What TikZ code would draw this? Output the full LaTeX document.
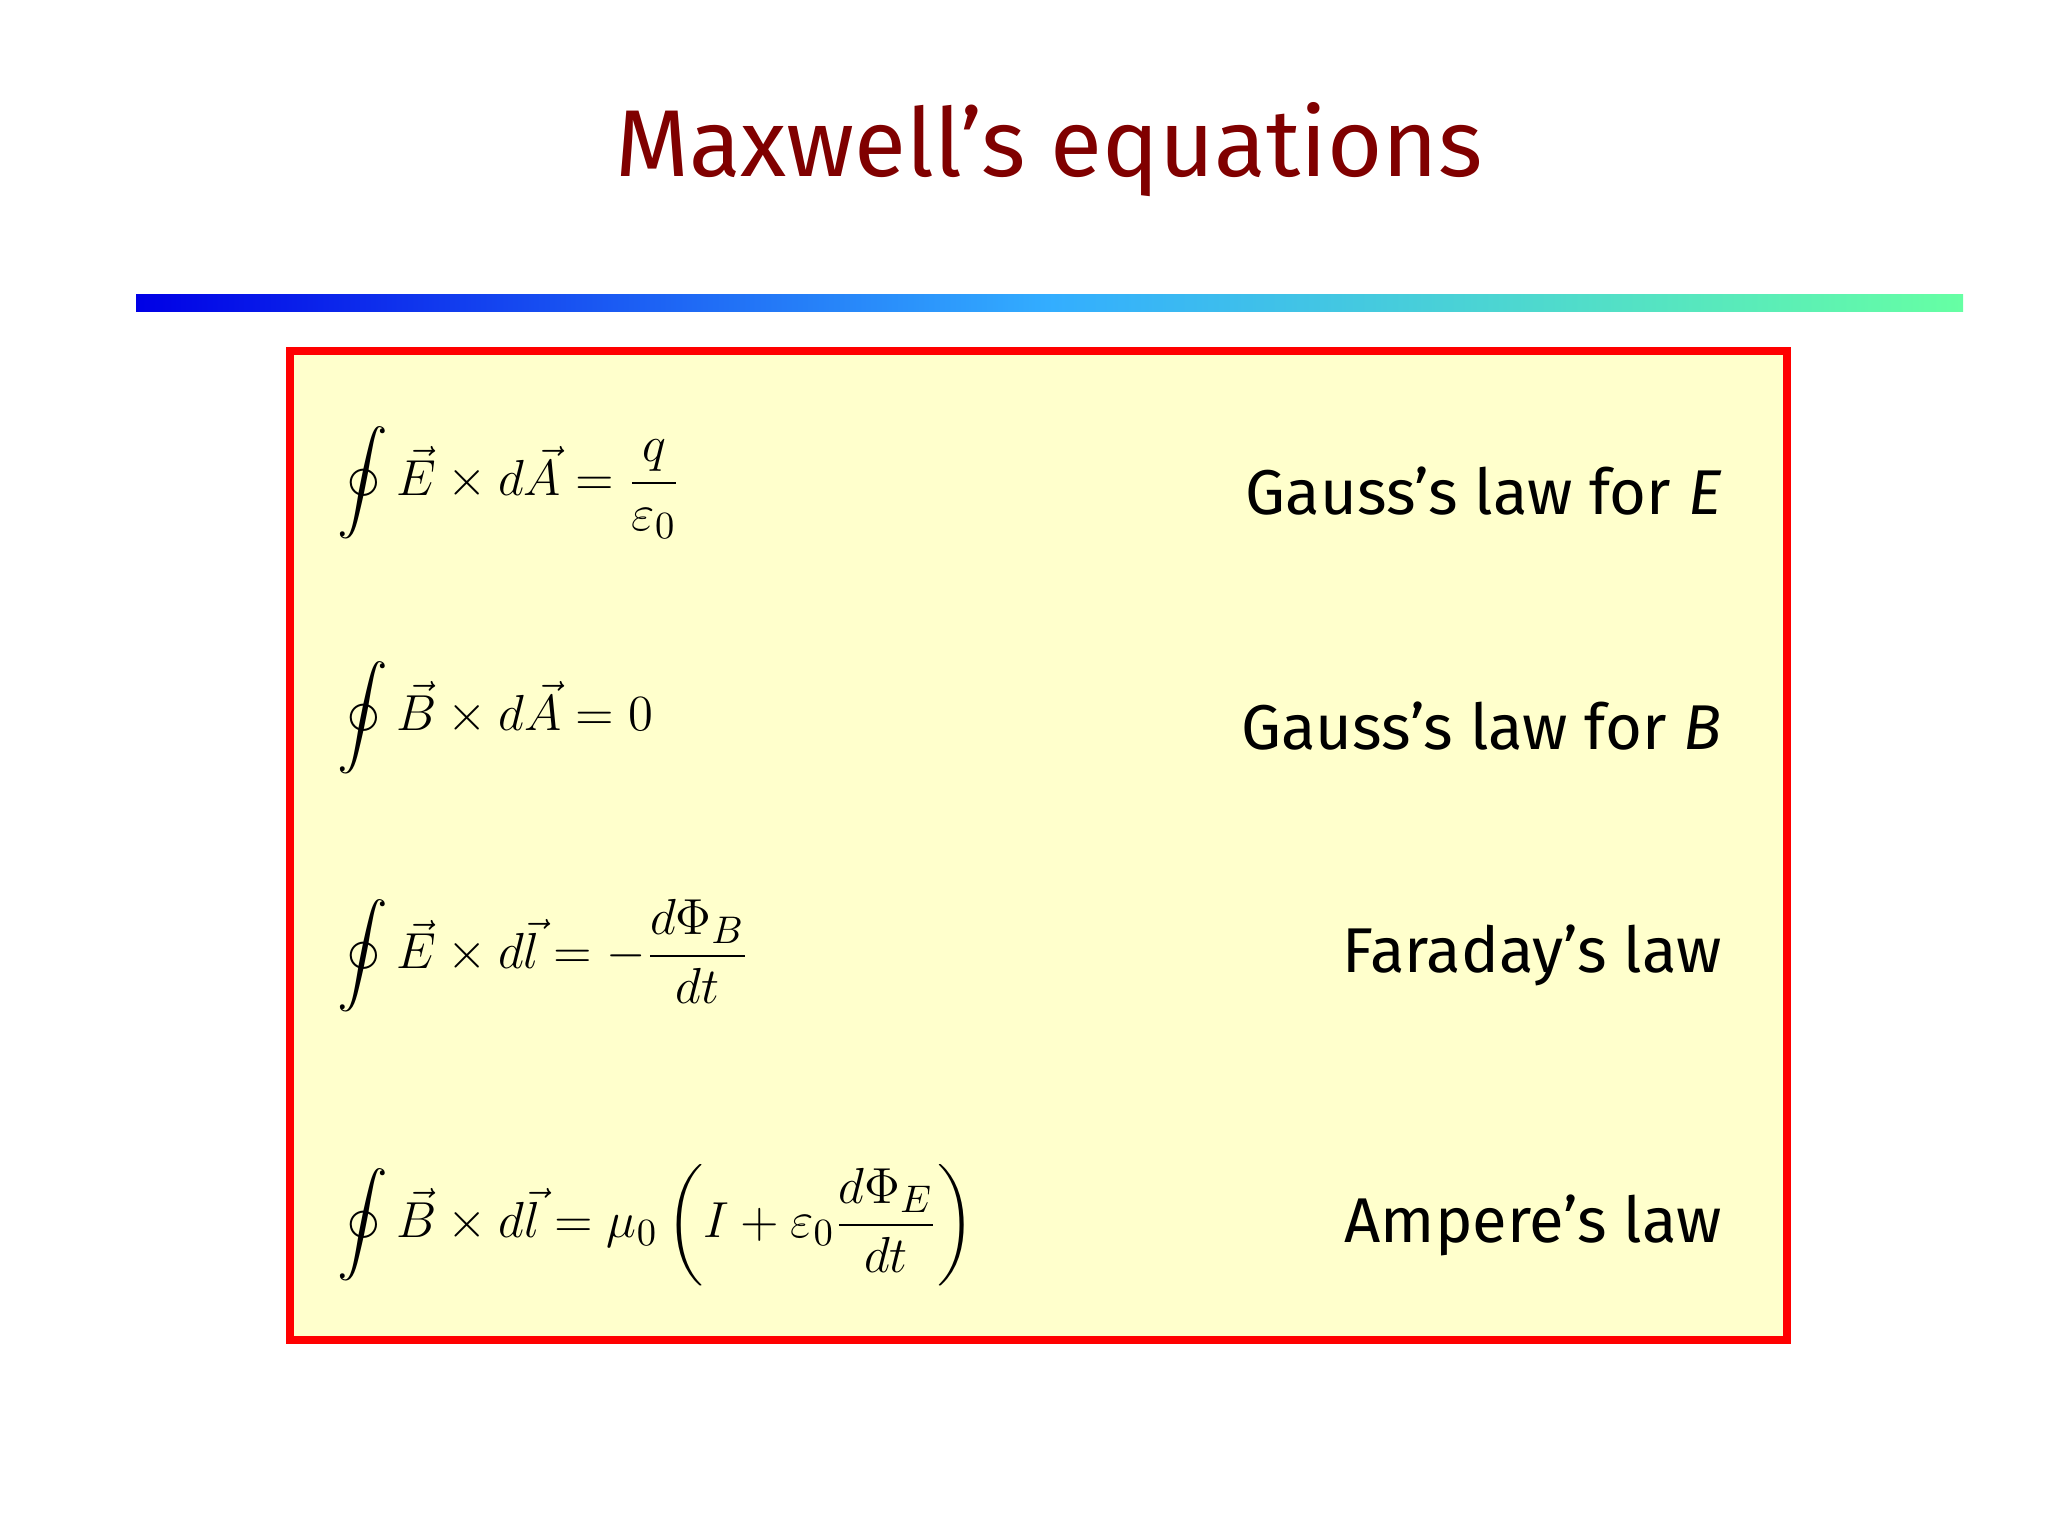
\documentclass[tikz,border=0pt]{standalone}
\usepackage{amsmath}
\usepackage{fontspec}
\newfontfamily\lblfont{Fira Sans}
\begin{document}
\begin{tikzpicture}[x=0.01cm,y=-0.01cm,
  lbl/.style={anchor=east,font=\lblfont\fontsize{18}{22}\selectfont},
  eqn/.style={anchor=west,font=\fontsize{15}{18}\selectfont}]
\useasboundingbox (0,0) rectangle (2048,1536);
\definecolor{ttl}{RGB}{128,0,0}
\definecolor{bx}{RGB}{255,255,204}
\node[font=\lblfont\fontsize{27}{32}\selectfont,text=ttl] (title) at (1049,150) {Maxwell’s equations};
\shade[left color=blue!90!black, right color=cyan!40!green!60!white, middle color=cyan!60!blue!80] (136,294) rectangle (1963,311);
\draw[red,line width=2.2pt,fill=bx] (290,351) rectangle (1787,1340);
\node[eqn] (e1) at (325,483) {$\displaystyle \oint \vec{E}\times d\vec{A} = \frac{q}{\varepsilon_0}$};
\node[eqn] (e2) at (325,718) {$\displaystyle \oint \vec{B}\times d\vec{A} = 0$};
\node[eqn] (e3) at (325,956) {$\displaystyle \oint \vec{E}\times d\vec{l} = -\frac{d\Phi_B}{dt}$};
\node[eqn] (e4) at (325,1225) {$\displaystyle \oint \vec{B}\times d\vec{l} = \mu_0\left(I+\varepsilon_0\frac{d\Phi_E}{dt}\right)$};
\node[lbl] (l1) at (1734,491) {Gauss’s law for \textit{E}};
\node[lbl] (l2) at (1734,726) {Gauss’s law for \textit{B}};
\node[lbl] (l3) at (1734,955) {Faraday’s law};
\node[lbl] (l4) at (1734,1225) {Ampere’s law};
\end{tikzpicture}
\end{document}
